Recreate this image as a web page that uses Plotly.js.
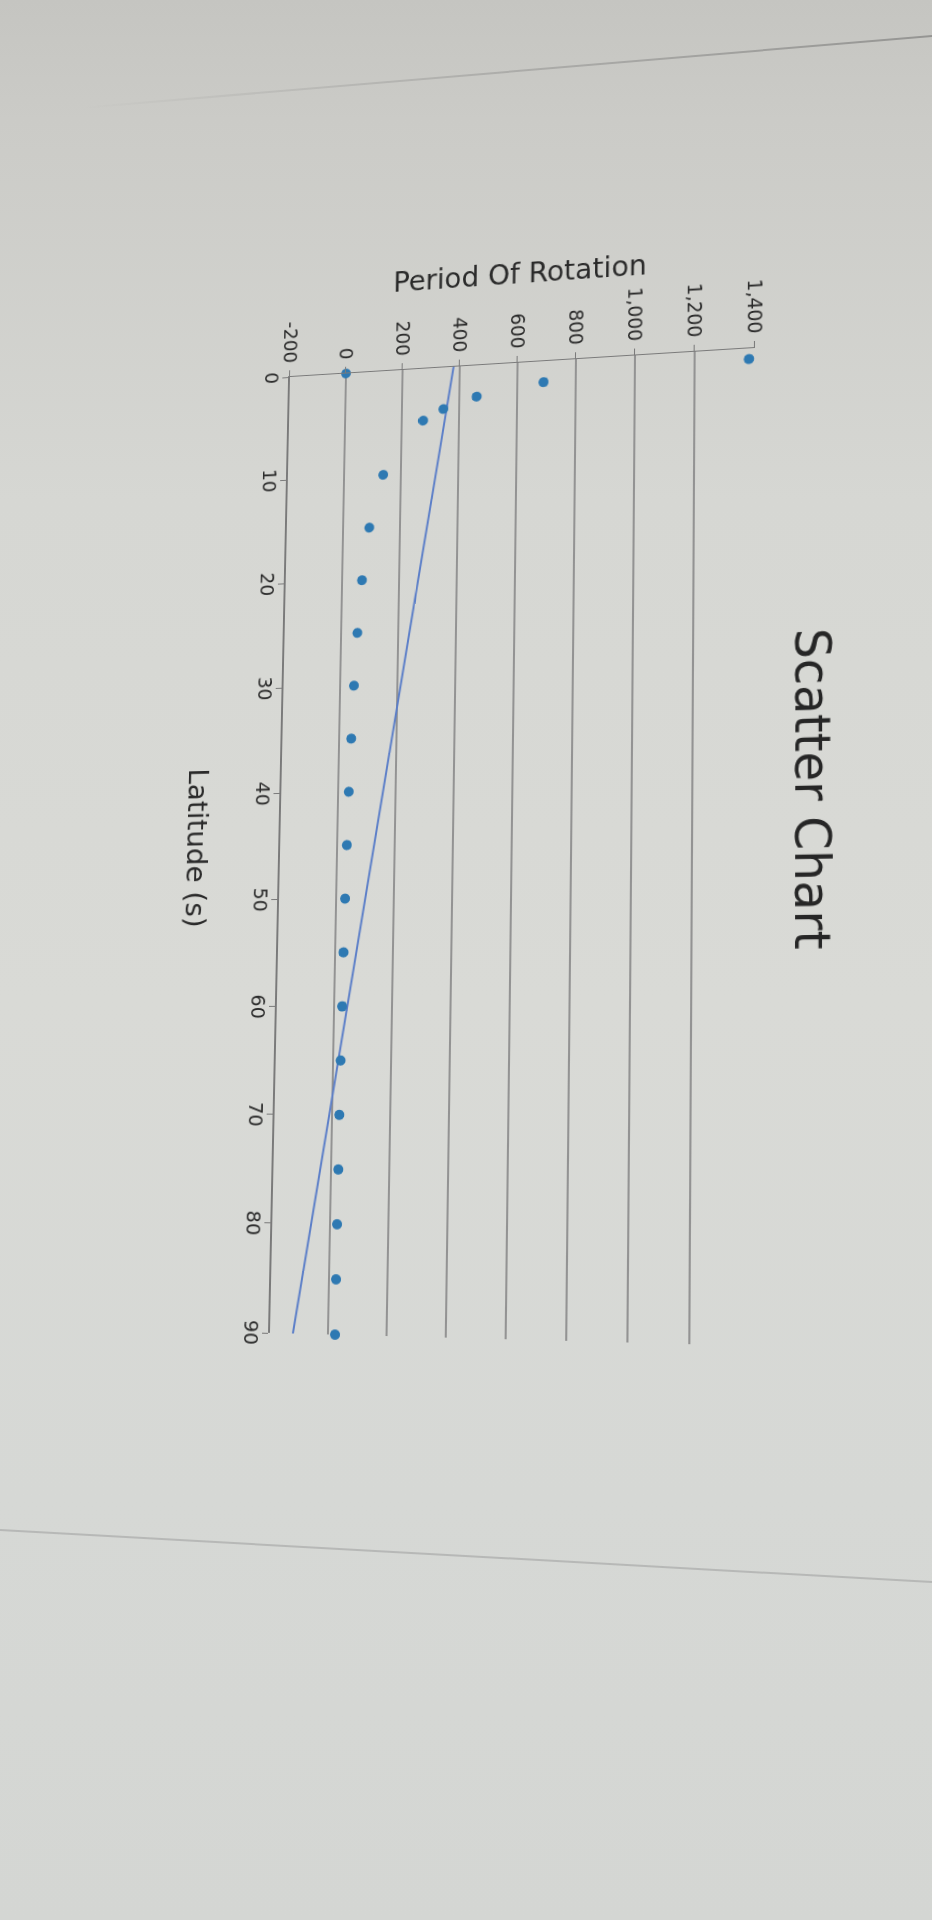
<!DOCTYPE html>
<html>
<head>
<meta charset="utf-8">
<script src="https://cdn.plot.ly/plotly-3.0.1.min.js"></script>
<style>
  html, body { margin: 0; padding: 0; }
  body {
    width: 932px; height: 1920px; overflow: hidden; position: relative;
    background: linear-gradient(180deg, #c5c5c1 0px, #cbcbc7 120px, #d6d7d3 500px, #d9dad6 1000px, #d6d8d5 1500px, #d4d6d3 1920px);
  }
  #bezel { position: absolute; left: 0; top: 0; width: 932px; height: 1920px; pointer-events: none; }
  #chart {
    position: absolute; left: 0; top: 0; width: 1920px; height: 932px;
    transform-origin: 0 0;
  }
</style>
</head>
<body>
<svg id="bezel" width="932" height="1920">
  <defs>
    <linearGradient id="fadeL" x1="0" x2="1" y1="0" y2="0">
      <stop offset="0" stop-color="#9a9a98" stop-opacity="0"/>
      <stop offset="0.5" stop-color="#9a9a98" stop-opacity="0.6"/>
      <stop offset="1" stop-color="#8f8f8d" stop-opacity="0.9"/>
    </linearGradient>
  </defs>
  <line x1="80" y1="108" x2="932" y2="36" stroke="url(#fadeL)" stroke-width="2"/>
  <line x1="0" y1="1530" x2="932" y2="1582" stroke="#a9abaa" stroke-opacity="0.7" stroke-width="2"/>
</svg>
<div id="chart"></div>
<script>
// Data
const latitude = [0, 1, 2, 3, 4, 5, 10, 15, 20, 25, 30, 35, 40, 45, 50, 55, 60, 65, 70, 75, 80, 85, 90];
const period   = [0, 1380, 690, 460, 345, 275, 138, 92, 70, 57, 48, 42, 37, 34, 31, 29, 28, 26, 25, 25, 24, 24, 24];
const yTickVals = [-200, 0, 200, 400, 600, 800, 1000, 1200, 1400];
const yTickText = ['-200', '0', '200', '400', '600', '800', '1,000', '1,200', '1,400'];
const xTickVals = [0, 10, 20, 30, 40, 50, 60, 70, 80, 90];

// Linear trendline (least squares) from the data
const n = latitude.length;
const mx = latitude.reduce((a, b) => a + b, 0) / n;
const my = period.reduce((a, b) => a + b, 0) / n;
let sxy = 0, sxx = 0;
for (let i = 0; i < n; i++) { sxy += (latitude[i] - mx) * (period[i] - my); sxx += (latitude[i] - mx) ** 2; }
const slope = sxy / sxx, intercept = my - slope * mx;
const trendX = [latitude[0], latitude[n - 1]];
const trendY = trendX.map(x => intercept + slope * x);

// ---- the photo shows the chart turned a quarter turn, slightly in perspective ----
const W = 1920, H = 932;
const M = { l: 378, r: 587, t: 178, b: 290 };
const divCorners = [[M.l, M.t], [W - M.r, M.t], [W - M.r, H - M.b], [M.l, H - M.b]];
const pageCorners = [[755, 348], [752, 1346], [270, 1333], [290, 377]];

function solve(A, b) {
  const N = b.length;
  for (let i = 0; i < N; i++) A[i] = A[i].concat([b[i]]);
  for (let c = 0; c < N; c++) {
    let p = c;
    for (let r = c + 1; r < N; r++) if (Math.abs(A[r][c]) > Math.abs(A[p][c])) p = r;
    [A[c], A[p]] = [A[p], A[c]];
    for (let r = 0; r < N; r++) {
      if (r === c) continue;
      const f = A[r][c] / A[c][c];
      for (let k = c; k <= N; k++) A[r][k] -= f * A[c][k];
    }
  }
  return A.map((row, i) => row[N] / row[i]);
}
function homography(src, dst) {
  const A = [], b = [];
  for (let i = 0; i < 4; i++) {
    const [x, y] = src[i], [X, Y] = dst[i];
    A.push([x, y, 1, 0, 0, 0, -X * x, -X * y]); b.push(X);
    A.push([0, 0, 0, x, y, 1, -Y * x, -Y * y]); b.push(Y);
  }
  return solve(A, b);
}
function applyH(h, x, y) {
  const w = h[6] * x + h[7] * y + 1;
  return [(h[0] * x + h[1] * y + h[2]) / w, (h[3] * x + h[4] * y + h[5]) / w];
}
const Hf = homography(divCorners, pageCorners);
const Hi = homography(pageCorners, divCorners);
const [a, b_, c, d, e, f, g, h] = Hf;
document.getElementById('chart').style.transform =
  `matrix3d(${a},${d},0,${g},${b_},${e},0,${h},0,0,1,0,${c},${f},0,1)`;

// title centre as seen on the page
const titleDiv = applyH(Hi, 813, 788);

const FONT = 'DejaVu Sans, Verdana, sans-serif';

const traces = [
  {
    x: trendX, y: trendY, type: 'scatter', mode: 'lines',
    line: { color: '#5b7ec8', width: 2 }, hoverinfo: 'skip', cliponaxis: false
  },
  {
    x: latitude, y: period, type: 'scatter', mode: 'markers',
    marker: { color: '#2e79b2', size: 10 }, cliponaxis: false
  }
];

const layout = {
  width: W, height: H,
  margin: M,
  paper_bgcolor: 'rgba(0,0,0,0)', plot_bgcolor: 'rgba(0,0,0,0)',
  showlegend: false,
  font: { family: FONT, color: '#2a2a2a' },
  title: {
    text: 'Scatter Chart',
    font: { family: FONT, size: 46, color: '#262626' },
    xref: 'container', x: titleDiv[0] / W, xanchor: 'center',
    yref: 'container', y: 1 - titleDiv[1] / H, yanchor: 'middle'
  },
  xaxis: {
    range: [0, 90], tickvals: xTickVals,
    showgrid: false, zeroline: false,
    showline: true, linecolor: '#7a7a7a', linewidth: 1.5,
    ticks: 'outside', ticklen: 6, tickcolor: '#7a7a7a',
    ticklabelstandoff: -4,
    tickfont: { family: FONT, size: 19, color: '#2a2a2a' },
    title: { text: 'Latitude (s)', font: { family: FONT, size: 28, color: '#2a2a2a' }, standoff: 47 }
  },
  yaxis: {
    range: [-200, 1400], tickvals: yTickVals, ticktext: yTickText,
    showgrid: true, gridcolor: '#939393', gridwidth: 1.2, zeroline: false,
    showline: true, linecolor: '#7a7a7a', linewidth: 1.5,
    ticks: 'outside', ticklen: 6, tickcolor: '#7a7a7a',
    ticklabelstandoff: 3,
    tickfont: { family: FONT, size: 19, color: '#2a2a2a' },
    title: { text: 'Period Of Rotation', font: { family: FONT, size: 28, color: '#2a2a2a' }, standoff: 3 }
  }
};

Plotly.newPlot('chart', traces, layout, { displayModeBar: false, staticPlot: true });
</script>
</body>
</html>
